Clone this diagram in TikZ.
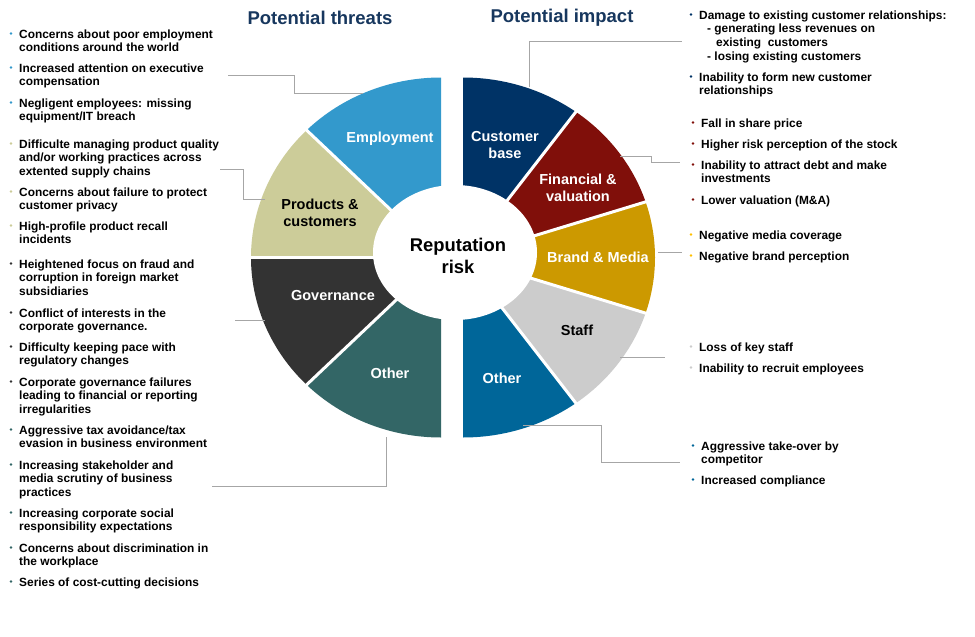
\documentclass[tikz,border=0pt]{standalone}
\usepackage{fontspec}
\setmainfont{Liberation Sans}
\usetikzlibrary{calc}
\definecolor{cEmp}{RGB}{51,153,204}
\definecolor{cProd}{RGB}{204,204,153}
\definecolor{cGov}{RGB}{51,51,51}
\definecolor{cOthL}{RGB}{51,102,102}
\definecolor{cCust}{RGB}{0,51,102}
\definecolor{cFin}{RGB}{128,15,10}
\definecolor{cBrand}{RGB}{204,153,0}
\definecolor{cBrandB}{RGB}{255,192,0}
\definecolor{cStaff}{RGB}{204,204,204}
\definecolor{cOthR}{RGB}{0,102,153}
\definecolor{cHead}{RGB}{23,55,94}
\definecolor{cLine}{RGB}{166,166,166}
\tikzset{
  item/.style={font=\bfseries\fontsize{11.9}{13.7}\selectfont, inner sep=0pt, text=black, anchor=base west},
  seglabel/.style={font=\bfseries\fontsize{14.5}{17}\selectfont, align=center, inner sep=0pt, text=white},
  header/.style={font=\bfseries\fontsize{18.5}{22}\selectfont, text=cHead, inner sep=0pt},
  conn/.style={draw=cLine, line width=1pt},
  divider/.style={draw=white, line width=3pt}
}
\newcommand\bitem[5]{%
  \fill[#4] (#2-8,#3-0.5) circle[radius=1.4];
  \node[item] (#1) at (#2,#3+4.2) {\begin{tabular}[t]{@{}l@{}}#5\end{tabular}};
}
\begin{document}
\begin{tikzpicture}[x=1pt,y=-1pt]
\useasboundingbox (0,0) rectangle (975,637);
\fill[white] (0,0) rectangle (975,637);

% left half
\begin{scope}[shift={(441,257.5)}, xscale=190, yscale=-180]
  \fill[cEmp]  (0,0) -- (90:1)  arc[start angle=90,  end angle=135, radius=1] -- cycle;
  \fill[cProd] (0,0) -- (135:1) arc[start angle=135, end angle=180, radius=1] -- cycle;
  \fill[cGov]  (0,0) -- (180:1) arc[start angle=180, end angle=225, radius=1] -- cycle;
  \fill[cOthL] (0,0) -- (225:1) arc[start angle=225, end angle=270, radius=1] -- cycle;
  \foreach \a in {135,180,225} \draw[divider] (0,0) -- (\a:1.02);
\end{scope}
% right half
\begin{scope}[shift={(463,257.5)}, xscale=192, yscale=-180]
  \fill[cCust]  (0,0) -- (90:1)  arc[start angle=90,  end angle=54,  radius=1] -- cycle;
  \fill[cFin]   (0,0) -- (54:1)  arc[start angle=54,  end angle=18,  radius=1] -- cycle;
  \fill[cBrand] (0,0) -- (18:1)  arc[start angle=18,  end angle=-18, radius=1] -- cycle;
  \fill[cStaff] (0,0) -- (-18:1) arc[start angle=-18, end angle=-54, radius=1] -- cycle;
  \fill[cOthR]  (0,0) -- (-54:1) arc[start angle=-54, end angle=-90, radius=1] -- cycle;
  \foreach \a in {54,18,-18,-54} \draw[divider] (0,0) -- (\a:1.02);
\end{scope}
\fill[white] (455,252.5) ellipse[x radius=82, y radius=67.5];

% segment labels
\node[seglabel] (lEmp) at (390,139) {Employment};
\node[seglabel, text=black] (lProd) at (320,212.5) {Products \&\\customers};
\node[seglabel] (lGov) at (333,296) {Governance};
\node[seglabel] (lOthL) at (390,373) {Other};
\node[seglabel] (lCust) at (505,145.5) {Customer\\base};
\node[seglabel] (lFin) at (578,188) {Financial \&\\valuation};
\node[seglabel] (lBrand) at (598,257) {Brand \& Media};
\node[seglabel, text=black] (lStaff) at (577,330) {Staff};
\node[seglabel] (lOthR) at (502,378) {Other};
\node[font=\bfseries\fontsize{18.4}{22}\selectfont, align=center, inner sep=0pt] (center) at (458,256) {Reputation\\risk};

% headers
\node[header] (hThreat) at (320,18) {Potential threats};
\node[header] (hImpact) at (562,18) {Potential impact};

% left column
\bitem{a1}{19}{34}{cEmp}{Concerns about poor employment\\conditions around the world}
\bitem{a2}{19}{68}{cEmp}{Increased attention on executive\\compensation}
\bitem{a3}{19}{103}{cEmp}{Negligent employees: missing\\equipment/IT breach}
\bitem{a4}{19}{144}{cProd}{Difficulte managing product quality\\and/or working practices across\\extented supply chains}
\bitem{a5}{19}{192}{cProd}{Concerns about failure to protect\\customer privacy}
\bitem{a6}{19}{226}{cProd}{High-profile product recall\\incidents}
\bitem{a7}{19}{264}{cGov}{Heightened focus on fraud and\\corruption in foreign market\\subsidiaries}
\bitem{a8}{19}{313}{cGov}{Conflict of interests in the\\corporate governance.}
\bitem{a9}{19}{347}{cGov}{Difficulty keeping pace with\\regulatory changes}
\bitem{a10}{19}{382}{cGov}{Corporate governance failures\\leading to financial or reporting\\irregularities}
\bitem{a11}{19}{430}{cOthL}{Aggressive tax avoidance/tax\\evasion in business environment}
\bitem{a12}{19}{465}{cOthL}{Increasing stakeholder and\\media scrutiny of business\\practices}
\bitem{a13}{19}{513}{cOthL}{Increasing corporate social\\responsibility expectations}
\bitem{a14}{19}{548}{cOthL}{Concerns about discrimination in\\the workplace}
\bitem{a15}{19}{582}{cOthL}{Series of cost-cutting decisions}

% right column
\bitem{b1}{699}{15}{cCust}{Damage to existing customer relationships:\\\hspace*{8pt}- generating less revenues on\\\hspace*{17pt}existing\ \ customers\\\hspace*{8pt}- losing existing customers}
\bitem{b2}{699}{77}{cCust}{Inability to form new customer\\relationships}
\bitem{b3}{701}{123}{cFin}{Fall in share price}
\bitem{b4}{701}{144}{cFin}{Higher risk perception of the stock}
\bitem{b5}{701}{165}{cFin}{Inability to attract debt and make\\investments}
\bitem{b6}{701}{200}{cFin}{Lower valuation (M\&A)}
\bitem{b7}{699}{235}{cBrandB}{Negative media coverage}
\bitem{b8}{699}{256}{cBrandB}{Negative brand perception}
\bitem{b9}{699}{347}{cStaff}{Loss of key staff}
\bitem{b10}{699}{368}{cStaff}{Inability to recruit employees}
\bitem{b11}{701}{446}{cOthR}{Aggressive take-over by\\competitor}
\bitem{b12}{701}{480}{cOthR}{Increased compliance}

% connector end points
\coordinate (empT) at (228,75);   \coordinate (empS) at (363,93);
\coordinate (prodT) at (220,169); \coordinate (prodS) at (265,199);
\coordinate (govT) at (235,320);  \coordinate (govS) at (265,320);
\coordinate (othLT) at (212,486); \coordinate (othLS) at (386,437);
\coordinate (custS) at (529,87);  \coordinate (custT) at (682,41);
\coordinate (finS) at (620,156);  \coordinate (finT) at (680,162);
\coordinate (brandS) at (658,252); \coordinate (brandT) at (682,252);
\coordinate (staffS) at (620,357); \coordinate (staffT) at (665,357);
\coordinate (othRS) at (523,425); \coordinate (othRT) at (680,462);

\draw[conn] (empT) -| ([xshift=-69pt]empS) -- (empS);
\draw[conn] (prodT) -| ([xshift=-22pt]prodS) -- (prodS);
\draw[conn] (govT) -- (govS);
\draw[conn] (othLT) -| (othLS);
\draw[conn] (custS) |- (custT);
\draw[conn] (finS) -| ([xshift=-29pt]finT) -- (finT);
\draw[conn] (brandS) -- (brandT);
\draw[conn] (staffS) -- (staffT);
\draw[conn] (othRS) -| ([xshift=-79pt]othRT) -- (othRT);
\end{tikzpicture}
\end{document}
